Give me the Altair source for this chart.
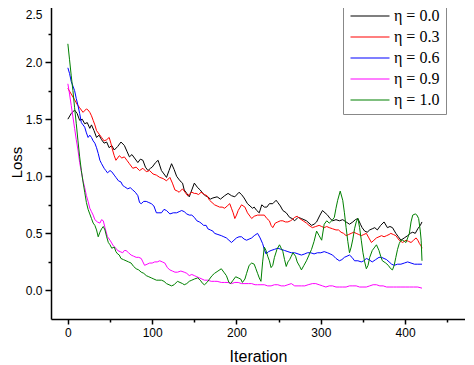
import altair as alt
import pandas as pd

# ---- data ----
it_00 = [0,4,8,11,14,17,20,23,26,28,31,34,37,40,43,46,49,52,55,59,63,67,70,73,76,79,83,86,89,92,95,98,100,104,107,111,114,117,120,123,126,129,133,136,138,141,144,147,150,154,157,160,163,166,169,172,177,181,186,190,194,198,203,206,209,213,216,219,221,224,227,230,233,236,239,243,247,249,252,255,259,263,266,269,273,277,280,283,286,289,292,295,299,302,305,308,311,314,318,322,326,330,334,338,341,344,347,349,352,355,358,361,364,367,371,375,379,382,385,389,392,395,399,403,406,409,412,415,418,420]
loss_00 = [1.50,1.55,1.58,1.55,1.49,1.50,1.46,1.47,1.42,1.45,1.40,1.34,1.36,1.32,1.29,1.30,1.25,1.27,1.23,1.26,1.30,1.27,1.22,1.17,1.19,1.16,1.12,1.15,1.14,1.08,1.05,1.07,1.08,1.12,1.14,1.05,1.02,0.99,1.05,1.11,1.06,1.00,0.96,0.94,0.88,0.85,0.82,0.88,0.94,0.90,0.88,0.85,0.83,0.82,0.80,0.81,0.82,0.80,0.83,0.85,0.83,0.82,0.86,0.84,0.81,0.76,0.74,0.72,0.73,0.70,0.68,0.75,0.73,0.73,0.76,0.76,0.79,0.77,0.74,0.70,0.68,0.64,0.63,0.61,0.64,0.63,0.62,0.61,0.59,0.57,0.58,0.60,0.66,0.70,0.68,0.66,0.63,0.61,0.62,0.61,0.62,0.60,0.58,0.60,0.62,0.63,0.58,0.55,0.52,0.51,0.53,0.54,0.55,0.53,0.57,0.60,0.55,0.56,0.55,0.50,0.47,0.44,0.46,0.48,0.50,0.51,0.50,0.54,0.57,0.60]

it_03 = [0,4,8,11,14,18,22,24,26,28,30,32,34,37,40,43,46,49,51,53,55,57,59,61,64,67,70,73,75,77,81,85,89,93,97,101,105,109,113,117,121,124,127,130,132,136,139,142,147,150,152,155,158,162,165,168,171,174,177,180,183,186,189,192,194,196,198,200,202,206,210,213,216,218,221,225,229,233,236,239,241,243,246,249,252,255,258,261,264,266,269,272,275,279,283,286,290,294,298,301,304,307,310,314,318,321,324,327,330,333,336,339,342,345,348,351,354,357,360,363,366,369,372,375,378,381,383,386,389,391,393,395,397,399,401,404,407,410,413,415,417,419,420]
loss_03 = [1.77,1.72,1.67,1.63,1.60,1.56,1.59,1.58,1.56,1.53,1.49,1.45,1.40,1.37,1.34,1.31,1.32,1.34,1.29,1.23,1.18,1.14,1.16,1.18,1.16,1.17,1.14,1.11,1.09,1.07,1.08,1.05,1.07,1.04,1.05,1.02,1.01,0.99,0.98,0.96,0.99,0.94,0.88,0.87,0.86,0.89,0.86,0.83,0.86,0.85,0.85,0.84,0.86,0.84,0.83,0.79,0.77,0.75,0.74,0.73,0.73,0.72,0.74,0.76,0.72,0.68,0.63,0.66,0.70,0.75,0.73,0.68,0.65,0.63,0.65,0.66,0.66,0.66,0.63,0.61,0.57,0.55,0.59,0.60,0.61,0.61,0.60,0.60,0.61,0.62,0.64,0.65,0.63,0.61,0.59,0.57,0.55,0.56,0.57,0.56,0.55,0.56,0.55,0.54,0.53,0.53,0.51,0.50,0.48,0.49,0.50,0.51,0.50,0.49,0.48,0.49,0.50,0.46,0.42,0.44,0.46,0.47,0.48,0.47,0.48,0.49,0.50,0.49,0.48,0.46,0.44,0.43,0.42,0.43,0.44,0.43,0.42,0.44,0.46,0.44,0.41,0.39,0.37]

it_06 = [0,2,4,6,8,10,12,14,16,18,20,22,24,26,28,30,32,34,36,38,40,43,45,47,50,52,55,57,60,63,65,67,69,71,74,77,80,83,85,87,90,93,96,99,102,105,108,111,114,117,121,125,129,132,135,138,141,144,147,150,153,156,158,161,164,166,169,172,174,178,182,185,188,191,194,197,200,203,206,209,212,215,218,221,225,228,231,233,235,238,241,245,249,253,257,261,265,269,273,277,281,284,288,292,296,300,304,308,311,314,318,322,325,328,331,334,337,340,344,348,351,354,357,361,365,369,372,375,378,381,384,387,391,395,399,403,407,411,415,420]
loss_06 = [1.95,1.90,1.83,1.79,1.75,1.68,1.62,1.55,1.47,1.45,1.43,1.38,1.34,1.36,1.34,1.31,1.29,1.25,1.20,1.14,1.11,1.07,1.05,1.03,1.05,1.04,1.01,0.99,0.96,0.95,0.92,0.91,0.90,0.89,0.90,0.88,0.86,0.83,0.77,0.76,0.78,0.78,0.77,0.76,0.74,0.68,0.68,0.68,0.71,0.70,0.67,0.68,0.68,0.69,0.70,0.69,0.67,0.66,0.66,0.64,0.61,0.60,0.59,0.57,0.57,0.54,0.53,0.52,0.50,0.49,0.48,0.47,0.46,0.44,0.42,0.44,0.46,0.47,0.47,0.45,0.44,0.45,0.46,0.48,0.50,0.46,0.41,0.36,0.32,0.34,0.35,0.36,0.37,0.36,0.35,0.34,0.33,0.33,0.32,0.31,0.32,0.33,0.33,0.32,0.33,0.33,0.34,0.33,0.32,0.31,0.28,0.26,0.27,0.29,0.30,0.31,0.29,0.26,0.26,0.25,0.26,0.28,0.27,0.25,0.27,0.29,0.29,0.28,0.27,0.25,0.23,0.22,0.23,0.23,0.24,0.25,0.24,0.23,0.23,0.23]

it_09 = [0,2,4,6,8,10,12,14,16,18,20,22,24,26,28,30,32,35,38,40,42,44,47,50,54,57,59,62,65,67,69,72,75,78,81,84,87,89,91,94,97,100,103,106,109,112,115,118,121,124,127,130,134,138,141,144,147,150,153,156,159,162,166,170,174,177,182,186,190,194,198,202,206,210,214,218,222,225,229,233,237,241,245,249,253,257,261,265,269,273,277,281,285,290,294,298,302,306,310,314,318,322,326,330,334,338,342,346,350,354,358,362,366,370,374,378,382,386,390,395,400,405,410,415,420]
loss_09 = [1.81,1.72,1.62,1.52,1.42,1.32,1.23,1.12,1.04,0.96,0.90,0.83,0.78,0.72,0.69,0.66,0.62,0.60,0.59,0.62,0.61,0.55,0.47,0.44,0.39,0.37,0.35,0.34,0.33,0.35,0.35,0.33,0.31,0.30,0.29,0.29,0.28,0.25,0.22,0.23,0.24,0.24,0.25,0.25,0.26,0.25,0.24,0.20,0.18,0.17,0.16,0.16,0.17,0.16,0.15,0.13,0.14,0.13,0.12,0.11,0.10,0.09,0.09,0.08,0.08,0.08,0.07,0.07,0.07,0.06,0.07,0.07,0.06,0.06,0.06,0.06,0.05,0.05,0.05,0.05,0.04,0.04,0.05,0.05,0.04,0.04,0.05,0.06,0.04,0.04,0.04,0.04,0.05,0.06,0.06,0.05,0.04,0.03,0.04,0.04,0.03,0.03,0.03,0.03,0.04,0.04,0.04,0.03,0.03,0.03,0.04,0.05,0.05,0.04,0.04,0.03,0.03,0.03,0.03,0.03,0.03,0.03,0.03,0.03,0.02]

it_10 = [0,2,4,6,8,10,12,14,16,18,20,22,24,26,28,30,32,34,36,38,40,42,44,46,48,50,52,55,57,59,61,63,66,69,72,75,78,81,84,87,90,93,96,99,102,105,108,111,114,117,120,123,126,130,133,136,138,141,144,147,150,154,157,160,162,165,168,171,174,178,182,185,188,191,193,196,199,202,205,207,210,212,215,218,221,223,225,227,229,231,233,235,237,239,241,243,245,248,251,253,255,257,259,261,263,265,267,270,272,275,277,280,283,286,289,292,295,298,301,304,307,310,313,316,318,320,323,326,328,330,332,334,336,338,340,342,344,346,348,350,352,354,356,358,361,364,366,369,371,373,375,377,380,383,385,387,389,391,393,395,397,399,401,403,405,407,409,412,414,416,418,419,420]
loss_10 = [2.16,2.02,1.88,1.75,1.60,1.46,1.31,1.17,1.05,0.95,0.86,0.77,0.71,0.67,0.63,0.59,0.57,0.53,0.47,0.51,0.54,0.56,0.53,0.47,0.42,0.40,0.37,0.38,0.34,0.32,0.31,0.28,0.27,0.26,0.25,0.24,0.21,0.19,0.18,0.16,0.15,0.13,0.12,0.11,0.10,0.09,0.09,0.09,0.08,0.06,0.05,0.04,0.05,0.08,0.07,0.06,0.05,0.06,0.08,0.09,0.10,0.11,0.09,0.06,0.05,0.07,0.10,0.13,0.15,0.17,0.19,0.16,0.13,0.07,0.06,0.09,0.12,0.11,0.10,0.07,0.10,0.15,0.22,0.24,0.23,0.19,0.15,0.11,0.08,0.25,0.38,0.35,0.30,0.26,0.20,0.22,0.29,0.36,0.40,0.37,0.34,0.27,0.21,0.25,0.27,0.30,0.33,0.30,0.25,0.21,0.18,0.22,0.26,0.31,0.36,0.43,0.52,0.48,0.44,0.58,0.61,0.59,0.61,0.64,0.72,0.79,0.87,0.79,0.68,0.55,0.43,0.33,0.38,0.45,0.54,0.60,0.63,0.55,0.44,0.33,0.25,0.19,0.22,0.29,0.35,0.38,0.40,0.35,0.30,0.26,0.25,0.24,0.22,0.19,0.18,0.22,0.29,0.36,0.41,0.44,0.44,0.43,0.42,0.46,0.50,0.60,0.66,0.67,0.66,0.63,0.52,0.44,0.26]

labels = ["η = 0.0", "η = 0.3", "η = 0.6", "η = 0.9", "η = 1.0"]
colors = ["#000000", "#ff0000", "#0000ff", "#ff00ff", "#008000"]
x_ticks = [0, 50, 100, 150, 200, 250, 300, 350, 400, 450]
y_ticks = [0.0, 0.25, 0.5, 0.75, 1.0, 1.25, 1.5, 1.75, 2.0, 2.25, 2.5]

rows = []
for lab, xs, ys in zip(labels, [it_00, it_03, it_06, it_09, it_10],
                       [loss_00, loss_03, loss_06, loss_09, loss_10]):
    for xv, yv in zip(xs, ys):
        rows.append({"Iteration": xv, "Loss": yv, "series": lab})
df = pd.DataFrame(rows)

top_test = "datum.value >= 2.4"

chart = alt.Chart(df).mark_line(strokeWidth=1, clip=True).encode(
    x=alt.X("Iteration:Q",
            scale=alt.Scale(domain=[-20, 471], nice=False, zero=False),
            axis=alt.Axis(values=x_ticks, title="Iteration",
                          labelExpr="datum.value % 100 === 0 ? datum.label : ''",
                          tickSize={"condition": {"test": "datum.value % 100 === 0", "value": 5}, "value": 3},
                          titleFontSize=16, titlePadding=10)),
    y=alt.Y("Loss:Q",
            scale=alt.Scale(domain=[-0.25, 2.5], nice=False, zero=False),
            axis=alt.Axis(values=y_ticks, title="Loss", format=".1f",
                          labelExpr="abs(datum.value*2 - round(datum.value*2)) < 0.001 ? datum.label : ''",
                          tickSize={"condition": {"test": "abs(datum.value*2 - round(datum.value*2)) < 0.001", "value": 6}, "value": 3},
                          labelBaseline={"condition": {"test": top_test, "value": "top"}, "value": "middle"},
                          labelOffset={"condition": {"test": top_test, "value": 4}, "value": 0},
                          titleFontSize=15, titlePadding=1)),
    color=alt.Color("series:N",
                    scale=alt.Scale(domain=labels, range=colors),
                    legend=alt.Legend(orient="none", legendX=292, legendY=-3, title=None,
                                      symbolType="M-4,0H4", symbolSize=95, symbolStrokeWidth=1.2,
                                      symbolOffset=13, labelOffset=16,
                                      labelFont="Liberation Serif, Times New Roman, serif",
                                      labelFontSize=16, labelColor="black",
                                      strokeColor="#888888", fillColor="white", padding=6, rowPadding=5)),
).properties(
    width=414, height=314,
    autosize=alt.AutoSizeParams(type="none"),
    padding={"left": 43, "top": -3, "right": 0, "bottom": 45},
).configure_view(stroke=None).configure_axis(
    grid=False, domainColor="black", domainWidth=1.5, tickColor="black", tickWidth=1.5,
    labelFont="Liberation Sans", labelFontSize=12, labelColor="black", labelPadding=3,
    titleFont="Liberation Sans", titleFontWeight="normal", titleColor="black",
)

chart.save("out.html", embed_options={"renderer": "svg", "actions": False})
